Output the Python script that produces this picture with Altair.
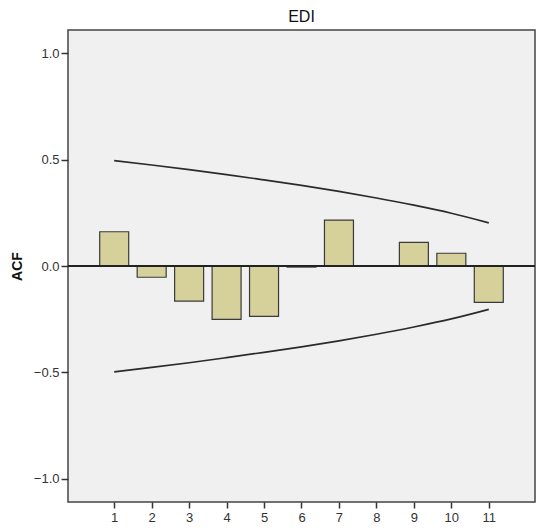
import altair as alt
import pandas as pd

##--data
lags = list(range(1, 12))
acf = [0.161, -0.053, -0.165, -0.251, -0.237, -0.005, 0.216, 0.002, 0.111, 0.060, -0.171]
upper = [0.496, 0.475, 0.453, 0.430, 0.405, 0.379, 0.351, 0.320, 0.286, 0.248, 0.203]
lower = [-0.498, -0.477, -0.455, -0.431, -0.406, -0.380, -0.352, -0.321, -0.287, -0.249, -0.204]
yTicks = [-1.0, -0.5, 0.0, 0.5, 1.0]

FONT = "Liberation Sans"

bars_df = pd.DataFrame({"lag": lags, "acf": acf})
limits_df = pd.concat([
    pd.DataFrame({"lag": lags, "limit": upper, "bound": "upper"}),
    pd.DataFrame({"lag": lags, "limit": lower, "bound": "lower"}),
])

xScale = alt.Scale(domain=[-0.1, 12.1], nice=False, zero=False)
yScale = alt.Scale(domain=[-1.11, 1.11], nice=False)

xAxis = alt.Axis(values=lags, title=None, grid=False, domain=False, tickSize=6,
                 tickWidth=1.5, tickColor="#333", labelColor="#333",
                 labelFontSize=13, labelFont=FONT, labelPadding=3)
yAxis = alt.Axis(values=yTicks, title="ACF", grid=False, domain=False,
                 labelExpr="replace(format(datum.value, '.1f'), '-', '\u2212')",
                 tickSize=7, tickWidth=1.5, tickColor="#333", labelColor="#333",
                 labelFontSize=13, labelFont=FONT, labelPadding=2,
                 titleFont=FONT, titleFontSize=14, titleFontWeight="bold",
                 titleColor="#111", titlePadding=9)

bars = alt.Chart(bars_df).mark_bar(size=29, fill="#d6d09a", stroke="#3a3a3a",
                                   strokeWidth=1.2).encode(
    alt.X("lag:Q", scale=xScale, axis=xAxis),
    alt.Y("acf:Q", scale=yScale, axis=yAxis))

zero = alt.Chart(bars_df).mark_rule(color="#222", strokeWidth=1.2).encode(
    y=alt.datum(0), x=alt.value(0), x2=alt.value(467))

limits = alt.Chart(limits_df).mark_line(color="#2b2b2b", strokeWidth=1.7,
                                        interpolate="monotone").encode(
    alt.X("lag:Q", scale=xScale),
    alt.Y("limit:Q", scale=yScale),
    detail="bound:N")

chart = alt.layer(bars, zero, limits).properties(
    width=467, height=472,
    title=alt.TitleParams("EDI", font=FONT, fontSize=16, fontWeight="normal",
                          color="#111", anchor="middle", offset=5),
    autosize=alt.AutoSizeParams(type="none"),
    padding={"left": 60, "top": 22, "right": 7, "bottom": 22},
    background="white",
).configure_view(fill="#f0f0f0", stroke="#444", strokeWidth=1.5)

chart.save("out.html", embed_options={"renderer": "svg", "actions": False})
